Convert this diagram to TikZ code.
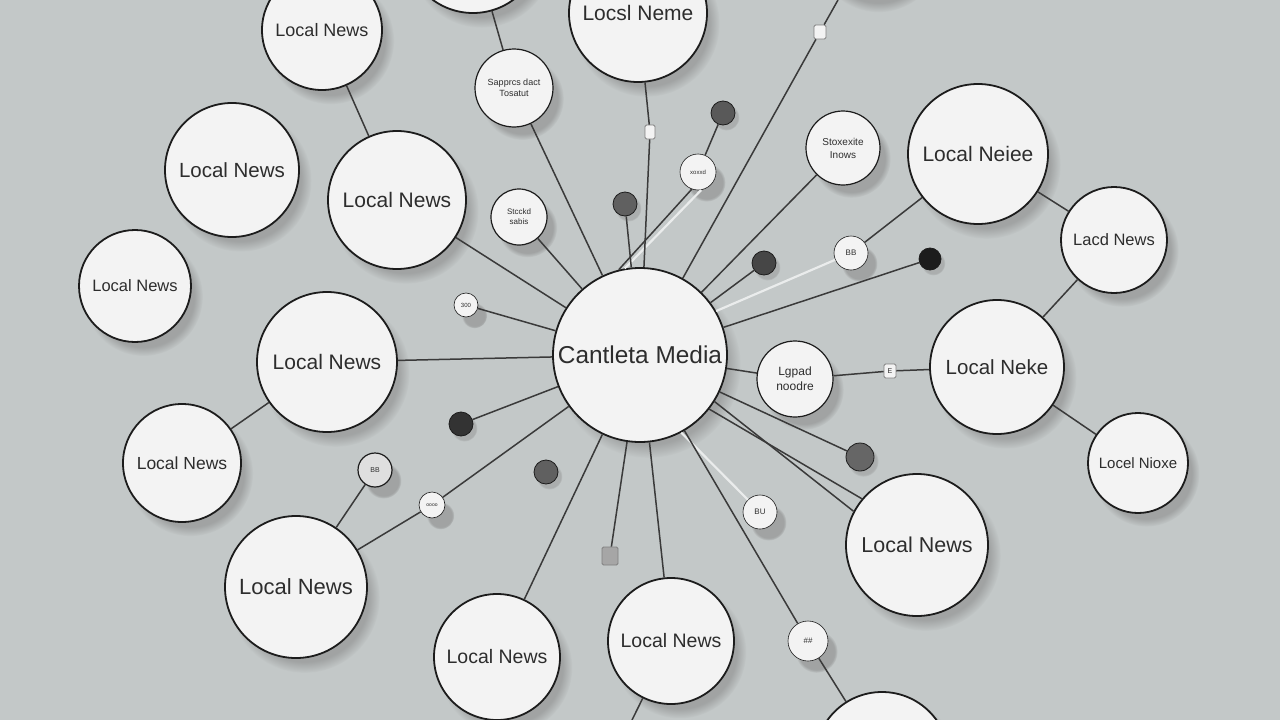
\documentclass[tikz,border=0pt]{standalone}
\usepackage{fontspec}
\setmainfont{Liberation Sans}
\usetikzlibrary{shadows}

\definecolor{bgc}{RGB}{195,200,200}
\definecolor{discc}{RGB}{243,243,243}
\definecolor{rimc}{RGB}{28,28,28}
\definecolor{inkc}{RGB}{45,45,45}
\definecolor{wirec}{RGB}{58,58,58}
\definecolor{glowc}{RGB}{234,236,236}

\begin{document}
\begin{tikzpicture}[x=1pt,y=-1pt,
        disc/.style={circle,draw=rimc,line width=1.8pt,fill=discc,text=inkc,inner sep=0pt,align=center,
          circular drop shadow={shadow xshift=8pt,shadow yshift=-10pt,shadow scale=1.06,opacity=.5}},
        news/.style 2 args={disc,minimum size=#1,font=\fontsize{#2}{#2}\selectfont},
        tag/.style n args={3}{disc,line width=1.2pt,minimum size=#1,font=\fontsize{#2}{#3}\selectfont},
        dot/.style={circle,draw=rimc,line width=.8pt,fill=#1,minimum size=24pt,inner sep=0pt,
          circular drop shadow={shadow xshift=3pt,shadow yshift=-4pt,opacity=.35}},
        chip/.style={rectangle,rounded corners=1.5pt,draw=gray,fill=#1,minimum width=12pt,minimum height=14pt,
          inner sep=0pt,line width=.8pt,text=inkc,font=\fontsize{7}{7}\selectfont},
        wire/.style={color=wirec,line width=1.5pt},
        glow/.style={color=glowc,line width=2.2pt}]

    \clip (0,0) rectangle (1280,720);
    \fill[bgc] (0,0) rectangle (1280,720);

    % hub
    \node[news={174}{24.4}] (cm) at (640,355) {Cantleta Media};

    % big circles
    \node[news={120}{18}]   (n1)  at (322,30)   {Local News};
    \node[news={134}{20.5}] (n2)  at (232,170)  {Local News};
    \node[news={138}{21}]   (n3)  at (397,200)  {Local News};
    \node[news={112}{16.5}] (n4)  at (135,286)  {Local News};
    \node[news={140}{21}]   (n5)  at (327,362)  {Local News};
    \node[news={118}{17.5}] (n6)  at (182,463)  {Local News};
    \node[news={142}{22}]   (n7)  at (296,587)  {Local News};
    \node[news={126}{19.5}] (n8)  at (497,657)  {Local News};
    \node[news={126}{19.5}] (n9)  at (671,641)  {Local News};
    \node[news={142}{21.5}] (n10) at (917,545)  {Local News};
    \node[news={134}{20.5}] (n11) at (997,367)  {Local Neke};
    \node[news={100}{15}]   (n12) at (1138,463) {Locel Nioxe};
    \node[news={106}{16.5}] (n13) at (1114,240) {Lacd News};
    \node[news={140}{21}]   (n14) at (978,154)  {Local Neiee};
    \node[news={138}{21}]   (n15) at (638,13)   {Locsl Neme};
    \node[news={136}{20}]   (n16) at (473,-55)  {};
    \node[news={120}{18}]   (n17) at (870,-62)  {};
    \node[news={134}{20}]   (n18) at (882,759)  {};

    % medium circles
    \node[tag={78}{9}{11}]   (m1) at (514,88)  {Sapprcs dact\\Tosatut};
    \node[tag={56}{8}{10}]   (m2) at (519,217) {Stcckd\\sabis};
    \node[tag={74}{10}{13}]  (m3) at (843,148) {Stoxexite\\Inows};
    \node[tag={76}{12}{15}]  (m4) at (795,379) {Lgpad\\noodre};

    % small circles
    \node[tag={24}{6}{6},line width=.6pt]  (s1) at (466,305) {300};
    \node[tag={36}{6}{6},line width=.6pt]  (s2) at (698,172) {xoxxd};
    \node[tag={34}{8}{8},line width=.6pt]  (s3) at (851,253) {BB};
    \node[tag={34}{7}{7},fill=gray!25]     (s4) at (375,470) {BB};
    \node[tag={26}{5}{5},line width=.6pt]  (s5) at (432,505) {oooo};
    \node[tag={34}{8}{8},line width=.6pt]  (s6) at (760,512) {BU};
    \node[tag={40}{8}{8},line width=.6pt]  (s7) at (808,641) {\#\#};

    % dark dots
    \node[dot=gray!75!black]                  (d1) at (625,204) {};
    \node[dot=gray!70!black]                  (d2) at (723,113) {};
    \node[dot=gray!55!black]                  (d3) at (764,263) {};
    \node[dot=rimc,minimum size=22pt]         (d4) at (930,259) {};
    \node[dot=black!80]                       (d5) at (461,424) {};
    \node[dot=gray!75!black]                  (d6) at (546,472) {};
    \node[dot=gray!80!black,minimum size=28pt] (d7) at (860,457) {};

    % icons
    \node[chip=discc,minimum width=10pt] (i1) at (650,132) {};
    \node[chip=discc]                    (i2) at (820,32)  {};
    \node[chip=discc]                    (i3) at (890,371) {E};
    \node[chip=gray!70,minimum width=16pt,minimum height=18pt] (i4) at (610,556) {};

    \coordinate (topr) at (838,0);
    \coordinate (botm) at (632,720);

    % spokes
    \path[glow] (cm.100) edge (s2.-80)
                (cm.30)  edge (s3)
                (cm.-62) edge (s6);
    \path[wire] (cm) edge (n5)
                     edge (n3)
                     edge (m2)
                     edge (m1)
                     edge (d1)
                     edge (i1)
                     edge (i2)
                     edge (m3)
                     edge (d3)
                     edge (d4)
                     edge (m4)
                     edge (d7)
                     edge (s7)
                     edge (n9)
                     edge (i4)
                     edge (n8)
                     edge (s5)
                     edge (d5)
                     edge (s1)
                (cm.104) edge (s2.-110)
                (cm.-32) edge (n10.152)
                (cm.-38) edge (n10.140);

    % outer links
    \path[wire] (i1) edge (n15)
                (i2) edge (topr)
                (d2) edge (s2)
                (s3) edge (n14)
                (m4) edge (i3)
                (i3) edge (n11)
                (n11) edge (n12)
                (n13) edge (n11)
                (n14) edge (n13)
                (s7) edge (n18)
                (s5) edge (n7)
                (n7) edge (s4)
                (n5) edge (n6)
                (n3) edge (n1)
                (m1) edge (n16)
                (n9) edge (botm);
\end{tikzpicture}
\end{document}
